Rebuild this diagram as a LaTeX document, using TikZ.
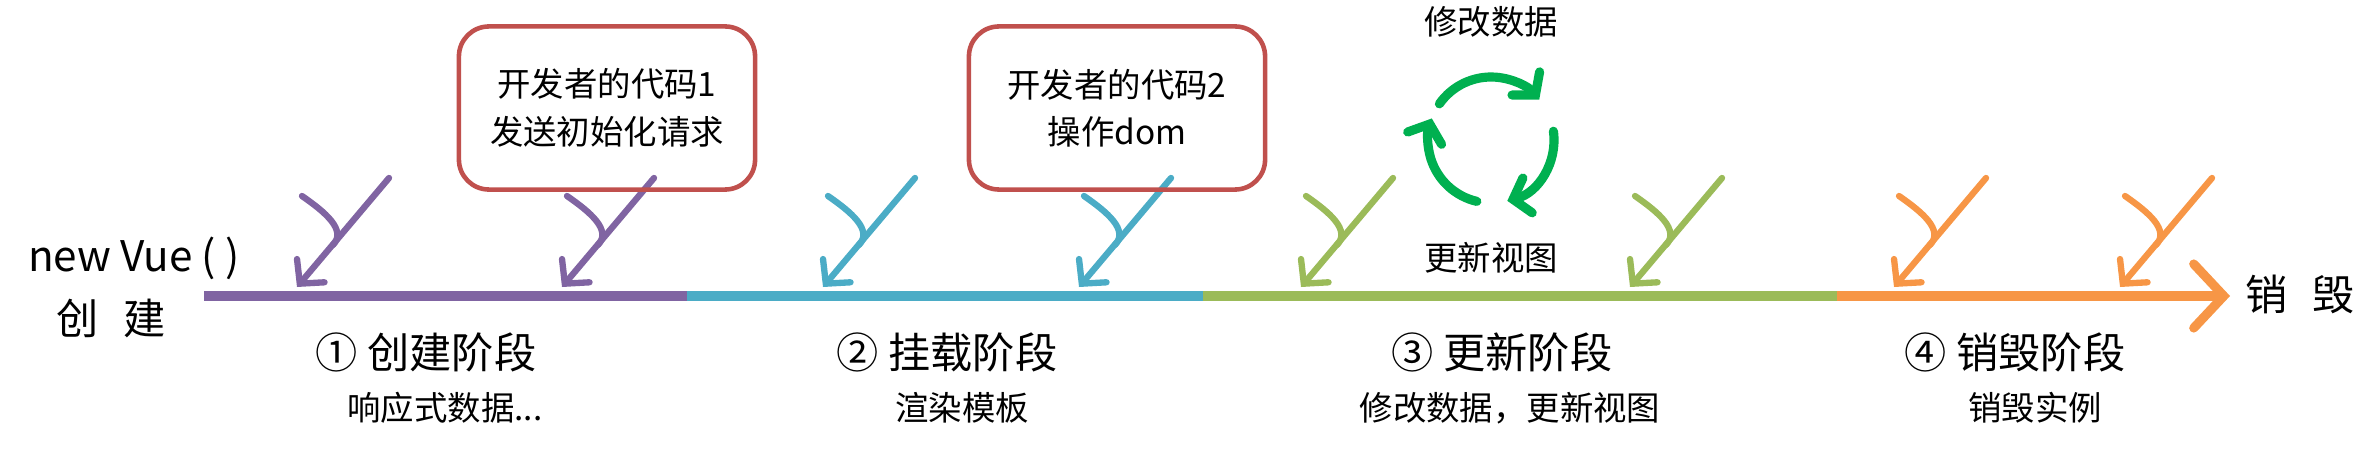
\documentclass[tikz,border=0pt]{standalone}
\usepackage{fontspec}
\setmainfont{Noto Sans CJK SC}
\usetikzlibrary{arrows.meta}
\definecolor{cpur}{HTML}{8064A2}
\definecolor{cblu}{HTML}{4BACC6}
\definecolor{cgrn}{HTML}{9BBB59}
\definecolor{corg}{HTML}{F79646}
\definecolor{ccyc}{HTML}{00B050}
\definecolor{cred}{HTML}{C0504D}
\tikzset{
  tl/.style={line width=2.6pt},
  hk/.style={line width=1.8pt, line cap=round},
  codebox/.style={draw=cred, line width=1.3pt, rounded corners=0.3cm, minimum width=2.96cm, minimum height=1.63cm, align=center, font=\fontsize{9.5pt}{13.5pt}\selectfont},
  big/.style={font=\fontsize{12pt}{14pt}\selectfont},
  small/.style={font=\fontsize{9.5pt}{12pt}\selectfont},
  cyc/.style={draw=ccyc, line width=2.6pt, line cap=round, -{Straight Barb[length=1.5mm,width=3.6mm,line cap=round]}}
}
\newcommand{\hookarrow}[2]{%
  \coordinate (t#1) at (#1,287);
  \draw[hk, draw=#2, -{Straight Barb[length=1.7mm,width=3.6mm,line cap=round]}] (#1+92,178) -- (t#1);
  \draw[hk, draw=#2] (#1+5,196) .. controls (#1+28,212) and (#1+50,230) .. (#1+36,245);
}
\begin{document}
\begin{tikzpicture}[x=0.01cm,y=-0.01cm]
\useasboundingbox (0,0) rectangle (2367,470);
% timeline
\coordinate (s) at (204,296);
\coordinate (p1) at (687,296);
\coordinate (p2) at (1203,296);
\coordinate (p3) at (1837,296);
\coordinate (e) at (2230,296);
\draw[tl, draw=cpur] (s) -- (p1);
\draw[tl, draw=cblu] (p1) -- (p2);
\draw[tl, draw=cgrn] (p2) -- (p3);
\draw[tl, draw=corg, -{Straight Barb[length=3mm,width=6.4mm,line cap=round]}] (p3) -- (e);
% hooks
\hookarrow{297}{cpur}
\hookarrow{562}{cpur}
\hookarrow{823}{cblu}
\hookarrow{1079}{cblu}
\hookarrow{1301}{cgrn}
\hookarrow{1630}{cgrn}
\hookarrow{1894}{corg}
\hookarrow{2120}{corg}
% boxes
\node[codebox] (b1) at (607,108) {开发者的代码1\\发送初始化请求};
\node[codebox] (b2) at (1117,108) {开发者的代码2\\操作dom};
% cycle
\coordinate (cc) at (1491,140);
\draw[cyc] ([shift={(-145:63)}]cc) arc[start angle=-145, end angle=-40, radius=63];
\draw[cyc] ([shift={(-8:63)}]cc) arc[start angle=-8, end angle=75, radius=63];
\draw[cyc] ([shift={(103:63)}]cc) arc[start angle=103, end angle=200, radius=63];
\node[small] (mod) at (1491,22) {修改数据};
\node[small] (upd) at (1491,258) {更新视图};
% labels
\node[big] (nv) at (134,258) {new Vue ( )};
\node[big] (cj) at (111,318) {创\hspace{0.6em}建};
\node[big] (xh) at (2300,294) {销\hspace{0.6em}毁};
\node[big] (l1) at (426,352) {① 创建阶段};
\node[small] (d1) at (445,408) {响应式数据...};
\node[big] (l2) at (947,352) {② 挂载阶段};
\node[small] (d2) at (962,408) {渲染模板};
\node[big] (l3) at (1502,352) {③ 更新阶段};
\node[small] (d3) at (1510,408) {修改数据，更新视图};
\node[big] (l4) at (2015,352) {④ 销毁阶段};
\node[small] (d4) at (2035,408) {销毁实例};
\end{tikzpicture}
\end{document}
